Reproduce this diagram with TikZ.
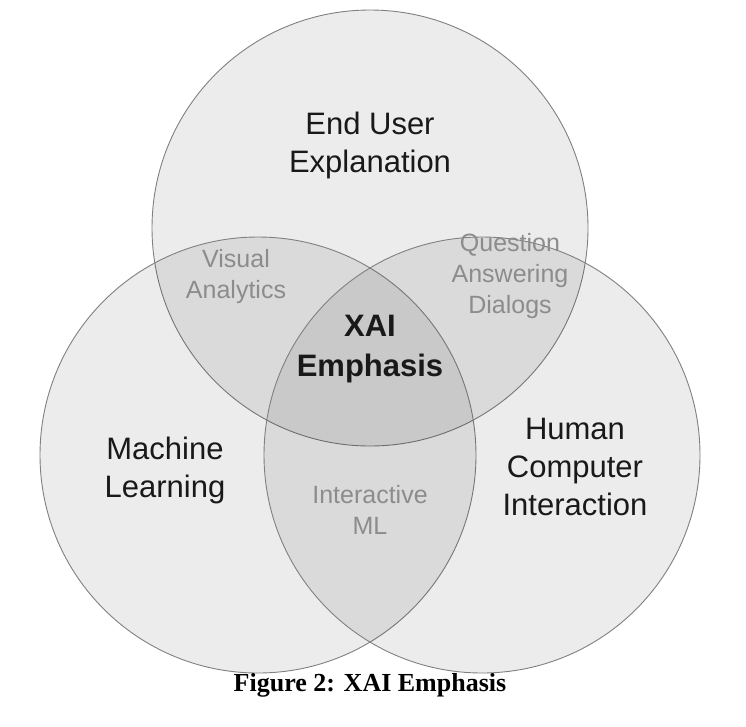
\documentclass[tikz,border=0pt]{standalone}
\usepackage{fontspec}
\setmainfont{Liberation Sans}
\newfontfamily\capfont{Liberation Serif}
\begin{document}
\begin{tikzpicture}[x=1pt,y=-1pt,
  circ/.style={draw=black!50,line width=0.9pt,fill=black,fill opacity=0.075},
  big/.style={align=center,font=\fontsize{31}{38}\selectfont,text=black!90},
  small/.style={align=center,font=\fontsize{25}{31}\selectfont,text=black!45}]
\useasboundingbox (0,0) rectangle (746,726);
\fill[white] (0,0) rectangle (746,726);
\node[circ,circle,minimum size=436pt,inner sep=0pt] (top) at (370,228) {};
\node[circ,circle,minimum size=436pt,inner sep=0pt] (left) at (258,455) {};
\node[circ,circle,minimum size=436pt,inner sep=0pt] (right) at (482,455) {};
\node[big] (eu) at (370,145) {End User\\Explanation};
\node[small] (va) at (236,277) {Visual\\Analytics};
\node[small] (qa) at (510,276) {Question\\Answering\\Dialogs};
\node[big,font=\fontsize{31}{40}\selectfont\bfseries] (xai) at (370,349) {XAI\\Emphasis};
\node[big] (ml) at (165,470) {Machine\\Learning};
\node[big] (hci) at (575,467) {Human\\Computer\\Interaction};
\node[small] (iml) at (370,510) {Interactive\\ML};
\node[font=\capfont\bfseries\fontsize{26}{30}\selectfont] (cap) at (370,685) {Figure 2: XAI Emphasis};
\end{tikzpicture}
\end{document}
